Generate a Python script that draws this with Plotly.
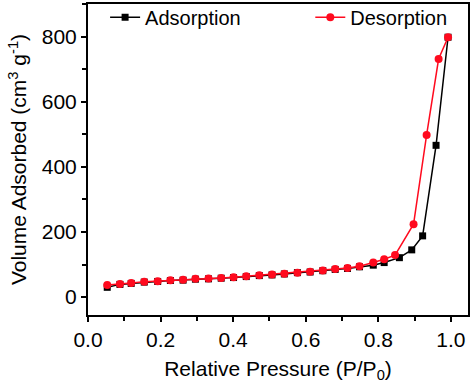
import plotly.graph_objects as go

ads_x = [0.053, 0.088, 0.119, 0.155, 0.192, 0.227, 0.262, 0.296, 0.332, 0.367, 0.401, 0.436,
         0.472, 0.507, 0.541, 0.577, 0.612, 0.647, 0.681, 0.715, 0.748, 0.786, 0.816, 0.858,
         0.892, 0.922, 0.959, 0.992]
ads_y = [30, 39, 42, 46, 48, 51, 52, 55, 56, 58, 60, 63,
         66, 68, 71, 75, 77, 81, 85, 88, 93, 98, 106, 121,
         145, 188, 466, 798]

des_x = [0.992, 0.966, 0.933, 0.897, 0.846, 0.816, 0.786, 0.748, 0.715, 0.681, 0.647, 0.612,
         0.577, 0.541, 0.507, 0.472, 0.436, 0.401, 0.367, 0.332, 0.296, 0.262, 0.227, 0.192,
         0.155, 0.119, 0.088, 0.053]
des_y = [798, 731, 498, 224, 129, 116, 106, 95, 89, 86, 82, 78,
         75, 72, 69, 67, 64, 61, 59, 57, 56, 53, 52, 49,
         47, 43, 40, 37]

x_ticks = [0.0, 0.2, 0.4, 0.6, 0.8, 1.0]
x_ticklabels = ["0.0", "0.2", "0.4", "0.6", "0.8", "1.0"]
y_ticks = [0, 200, 400, 600, 800]

fig = go.Figure()
fig.add_trace(go.Scatter(x=ads_x, y=ads_y, mode="lines+markers", name="Adsorption",
                         line=dict(color="black", width=1.5),
                         marker=dict(symbol="square", size=7, color="black"),
                         legend="legend"))
fig.add_trace(go.Scatter(x=des_x, y=des_y, mode="lines+markers", name="Desorption",
                         line=dict(color="#ff0a1e", width=1.5),
                         marker=dict(symbol="circle", size=8, color="#ff0a1e"),
                         legend="legend2"))

font_family = "Liberation Sans, Arial, sans-serif"
leg_common = dict(orientation="h", yanchor="top", y=1.02, xanchor="left",
                  bgcolor="rgba(0,0,0,0)", font=dict(size=20))
fig.update_layout(
    width=474, height=391,
    margin=dict(l=88, r=6, t=4, b=76, autoexpand=False),
    paper_bgcolor="white", plot_bgcolor="white",
    font=dict(family=font_family, size=21, color="black"),
    showlegend=True,
    legend=dict(x=0.045, **leg_common),
    legend2=dict(x=0.585, **leg_common),
    xaxis=dict(range=[0, 1.047], tickvals=x_ticks, ticktext=x_ticklabels,
               ticks="outside", ticklen=5, tickwidth=2, tickcolor="black",
               minor=dict(dtick=0.1, ticks="outside", ticklen=4, tickwidth=1.5, tickcolor="black"),
               showline=True, linewidth=2, linecolor="black", mirror=True,
               showgrid=False, zeroline=False, automargin=False,
               title=dict(text="Relative Pressure (P/P<sub>0</sub>)", font=dict(size=21), standoff=11)),
    yaxis=dict(range=[-55, 900], tickvals=y_ticks,
               ticks="outside", ticklen=5, tickwidth=2, tickcolor="black",
               minor=dict(dtick=100, tick0=0, ticks="outside", ticklen=4, tickwidth=1.5, tickcolor="black"),
               showline=True, linewidth=2, linecolor="black", mirror=True,
               showgrid=False, zeroline=False, automargin=False,
               title=dict(text="Volume Adsorbed (cm<sup>3</sup> g<sup>-1</sup>)", font=dict(size=21), standoff=9)),
)

fig.write_html("out.html", config={"displayModeBar": False},
               post_script="document.body.style.margin='0';")
